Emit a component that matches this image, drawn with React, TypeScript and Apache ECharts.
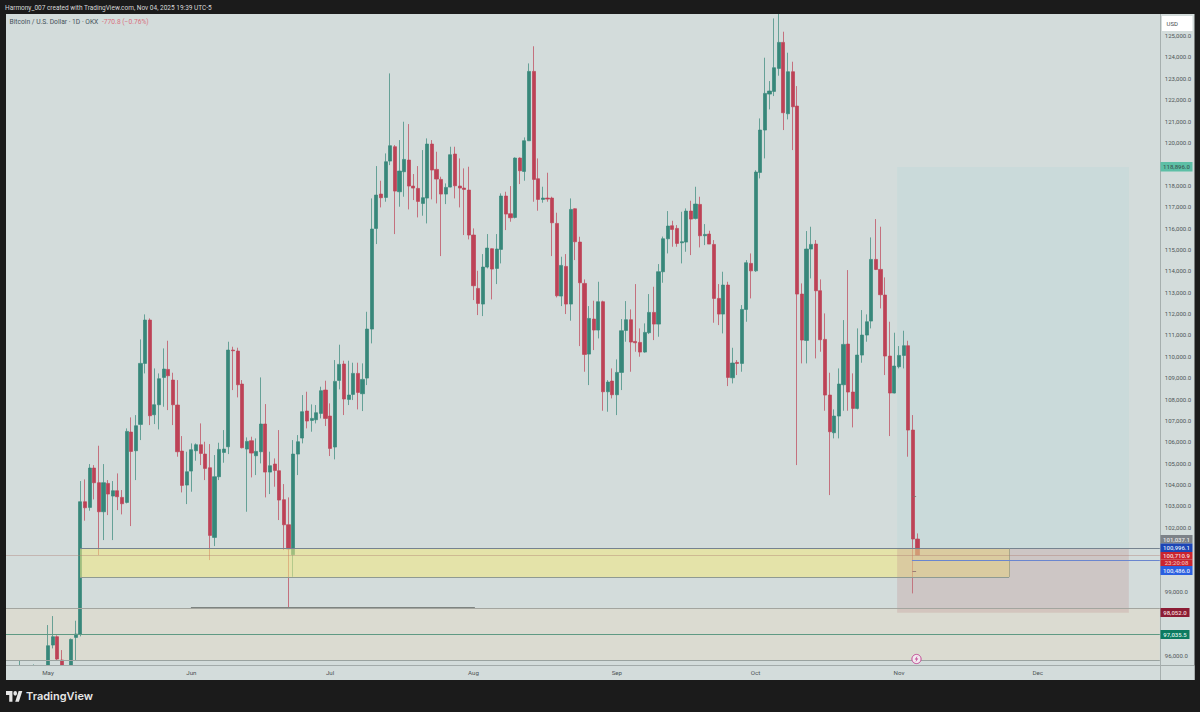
import React, { useEffect, useRef } from "react";
import * as echarts from "echarts";

// each candle: [open, close, low, high]
const aprilCandles = [
  [87500,93400,87100,93800],[93400,93700,92000,94500],[93700,93900,91700,94000],[93900,94600,92800,95792],[94600,94600,93900,95000],[94600,93800,93500,95000],[93800,94900,92800,95589],[94900,94200,93800,95200],[94200,94200,92900,95200],
];
const mayCandles = [
  [94200,96462,93900,97429],[96493,96883,96337,97850],[96883,95838,95792,96950],[95792,94300,93900,96260],[94300,94800,93500,95100],[94800,96758,93400,96800],[96852,97008,95792,97631],[97008,103197,96900,104164],[103197,102916,102309,104242],[102932,104772,102776,104959],
  [104772,104086,103306,104912],[104086,102729,100703,105816],[102729,104086,101404,104959],[104055,103556,102573,104210],[103462,103711,101404,104164],[103711,103431,102807,104522],[103400,103103,102605,103743],[103166,106486,103119,106627],[106455,105551,102059,107141],[105582,106751,104210,107250],
  [106814,109667,106081,110789],[109667,111694,109199,111959],[111694,107219,106783,111772],[107266,107734,106830,109433],[107734,108950,106580,109199],[109012,109402,107640,110368],[109386,109090,107484,110727],[108887,107734,106783,109230],[107718,105536,105302,108887],[105567,103961,103633,106268],[103977,104600,103088,105536],
];
const juneCandles = [
  [104631,105629,103665,105925],[105582,105863,105115,105925],[105863,105458,104912,106861],[105426,104756,104210,106003],[104787,101623,100469,105894],[101529,104366,101123,105380],[104366,105645,104210,105956],[105504,105660,105021,106549],[105770,110291,105426,110680],[110291,110259,108420,110446],
  [110244,108669,108077,110400],[108700,105723,105692,108887],[105660,106019,102729,106206],[106050,105473,104335,106237],[105348,105551,104444,106159],[105536,106830,104990,109012],[106830,104584,103400,107765],[104584,104881,103556,105536],[104959,104662,103899,105224],[104647,103275,102340,106549],
  [103291,102121,100937,104023],[102121,100983,98255,103400],[100718,105426,99689,106081],[105426,106003,104444,106315],[106176,107407,105926,108187],[107438,106971,106628,108342],[107002,107095,106472,107750],[107033,107360,106861,107719],[107329,108389,107095,108576],[108420,107095,106737,108857],
];
const julyCandles = [
  [107204,105692,105334,107797],[105755,108826,105178,109824],[108873,109621,108452,110541],[109637,108000,107251,109792],[107984,108187,107719,109792],[108218,109200,107953,109699],[109200,108311,107516,109699],[108249,108919,107438,109668],[108981,111273,108654,112082],[111273,115950,110603,117384],
  [115981,117540,115249,118897],[117587,117416,116964,118211],[117431,119099,117229,119489],[119130,119848,118943,123231],[119801,117727,115716,119879],[117696,118663,116995,120113],[118632,119208,117462,120970],[119177,117961,116870,120861],[117961,117868,117306,118523],[117852,117244,116496,118897],
  [117150,117416,116574,119645],[117400,119926,116215,120191],[119926,118710,117338,120113],[118741,118289,117150,119567],[118273,117587,114687,118398],[117587,117899,117119,118086],[117914,119427,117899,119801],[119458,117977,117384,119801],[117961,117868,116964,119255],[117868,117805,115670,118788],[117774,115670,115467,118865],
];
const augustCandles = [
  [115670,113300,112629,115981],[113175,112474,111928,113999],[112442,114173,111881,114781],[114173,115061,114111,115716],[115030,114079,112660,115046],[114111,115015,113378,115716],[114999,117494,114344,117618],[117494,116652,115903,117696],[116667,116480,116293,117961],[116496,119271,116449,119302],
  [119271,118678,118055,119302],[118647,120082,118211,120237],[120081,123324,120081,123698],[123324,118273,117228,124500],[118304,117338,116808,119255],[117338,117400,117182,117930],[117400,117353,117228,118585],[117400,116246,114687,117462],[116215,112832,112754,116714],[112816,114251,112349,114656],
  [114204,112442,111975,114781],[112442,116870,111663,117384],[116900,115357,114500,116917],[115341,113439,110477,115591],[113408,110088,109277,113595],[110103,111771,108653,112348],[111740,111226,110290,112598],[111226,112551,110836,113486],[112551,108341,107453,112600],[108341,108794,107406,108887],[108840,108202,108030,109433],
];
const septemberCandles = [
  [108202,109246,107250,109854],[109246,111195,108420,111740],[111210,111709,110680,112582],[111709,110665,109277,112192],[110696,110633,110212,113377],[110649,110197,109979,111304],[110197,111117,110166,111538],[111101,112052,111039,112909],[112052,111506,110758,113252],[111506,113954,110914,114313],
  [113954,115497,113439,115600],[115497,116090,114811,116791],[116105,115934,115123,116339],[115981,115279,115123,116137],[115310,115357,114344,116760],[115341,116791,114889,116916],[116791,116417,114733,117275],[116448,117119,116400,117929],[117103,115638,115092,117462],[115638,115700,115201,116183],
  [115716,115248,115248,115872],[115232,112707,111569,115435],[112707,111974,111460,113377],[111974,113330,111070,113954],[113330,109012,108606,113486],[108996,109682,108731,110398],[109713,109667,109121,109823],[109667,112192,109277,112395],[112192,114375,111615,114500],[114344,113995,112707,114811],
];
const octoberCandles = [
  [113995,118615,113950,118700],[118601,120581,118320,121126],[120581,122295,119255,123964],[122264,122405,121547,122872],[122389,123496,122171,125803],[123465,124681,123122,126115],[124681,121391,120581,125180],[121344,123309,121079,124198],[123309,121672,119645,123777],[121703,112910,104912,122638],
  [112910,110759,109667,113409],[110743,115015,109667,115857],[115015,115233,113643,116059],[115249,113066,109901,115436],[113066,110774,110213,113596],[110790,108186,107453,112006],[108186,106471,103509,109231],[106424,107204,106160,107516],[107204,108701,106160,109433],[108670,110556,107453,111694],
  [110571,108327,107453,114032],[108327,107563,106674,109200],[107563,110057,107516,111304],[110057,110992,109698,112162],[110992,111616,110681,111959],[111647,114531,111304,115560],[114531,114063,114032,116418],[114063,112879,112240,116060],[112863,110010,109122,113690],[110010,108280,106269,111616],[108280,109543,108264,111102],
];
const novemberCandles = [
  [109511,110041,109433,110478],[110041,110493,109433,111195],[110493,106549,105302,110727],[106549,101452,98910,107251],[101452,100703,100703,101716],
];
const candles = [...aprilCandles, ...mayCandles, ...juneCandles, ...julyCandles, ...augustCandles, ...septemberCandles, ...octoberCandles, ...novemberCandles];

const dayCount = 250;
const monthNames = ["Jan","Feb","Mar","Apr","May","Jun","Jul","Aug","Sep","Oct","Nov","Dec"];
const dates: string[] = [];
for (let k = 0; k < dayCount; k++) {
  const d = new Date(Date.UTC(2025, 3, 22 + k));
  dates.push(d.toISOString().slice(0, 10));
}
const hiddenTicks = [97000, 98000, 100000, 101000, 119000, 126000];

const priceTags = [
  { text: "118,896.0", y: 162, h: 9.5, w: 32, fill: "#5dbfa6", color: "#3c5f58" },
  { text: "101,037.1", y: 535, h: 8.5, w: 32, fill: "#7d8288", color: "#e8e8e8" },
  { text: "100,996.1", y: 543.5, h: 8.5, w: 32, fill: "#1d45b5", color: "#dfe6f7" },
  { text: "100,710.9", y: 552, h: 7.5, w: 32, fill: "#c9242f", color: "#f6dcdc" },
  { text: "23:20:08", y: 559.5, h: 6.5, w: 32, fill: "#c9242f", color: "#eeb3b3" },
  { text: "100,486.0", y: 566, h: 9, w: 32, fill: "#2a5fe0", color: "#e2e9fb" },
  { text: "98,052.0", y: 608, h: 9, w: 29, fill: "#8b1c34", color: "#f3dcdc" },
  { text: "97,035.5", y: 630, h: 9, w: 29, fill: "#0c7a60", color: "#dcf1ea" },
];

// zones as [day from May 1 start, price top, day end, price bottom, fill]
const backZones: [number, number, number, number, string][] = [
  [-9.08, 98224, 240.4, 95793, "rgba(232,220,190,0.36)"],
  [183.6, 118850, 233.7, 101030, "rgba(178,214,214,0.28)"],
];
const frontZones: [number, number, number, number, string][] = [
  [6.92, 101000, 207.8, 99674, "rgba(240,232,130,0.56)"],
  [183.6, 101030, 233.7, 98005, "rgba(190,135,135,0.26)"],
];

// lines as [day start, price start, day end, price end, color, width]
const levelLines: [number, number, number, number, string, number][] = [
  [6.92, 101000, 240.4, 101000, "#76838f", 1],
  [6.92, 99674, 207.8, 99674, "#8f9a92", 1],
  [207.8, 101000, 207.8, 99674, "#a8a78c", 1],
  [-9.08, 100710, 240.4, 100710, "rgba(170,120,110,0.55)", 0.7],
  [186.8, 100469, 240.4, 100469, "#6a86cf", 1],
  [-9.08, 98224, 240.4, 98224, "#a3a59f", 1],
  [30.9, 98240, 92.3, 98240, "#7d8380", 1],
  [-9.08, 97006, 240.4, 97006, "#5f9a84", 1],
  [-9.08, 95793, 240.4, 95793, "#9aa3a0", 1],
  [186.9, 103462, 187.7, 103462, "#8a6a6a", 0.8],
  [186.9, 99923, 187.7, 99923, "#8a6a6a", 0.8],
];

const FONT = "Roboto, 'Noto Sans', sans-serif";
const logoPath = "M14 22H7V11H0V4h14v18zM28 22h-8l7.5-18h8L28 22z M24 8a4 4 0 1 1-8 0a4 4 0 0 1 8 0z";

const zoneArea = (list: [number, number, number, number, string][], z: number) => ({
  silent: true,
  z,
  data: list.map(([x0, y0, x1, y1, fill]) => [
    { xAxis: x0, yAxis: y0, itemStyle: { color: fill } },
    { xAxis: x1, yAxis: y1 },
  ]),
});

export default function App() {
  const ref = useRef<HTMLDivElement>(null);
  useEffect(() => {
    document.body.style.margin = "0";
    document.body.style.background = "#1b1b1b";
    echarts.graphic.registerShape("tvlogo", echarts.graphic.extendPath(logoPath, {}));
    const chart = echarts.init(ref.current!, undefined, { renderer: "svg" });
    const tagGraphics: any[] = [];
    priceTags.forEach((t) => {
      tagGraphics.push({ type: "rect", z: 30, silent: true, shape: { x: 1160.5, y: t.y, width: t.w, height: t.h }, style: { fill: t.fill } });
      tagGraphics.push({ type: "text", z: 31, silent: true, x: 1176.5 - (32 - t.w) / 2, y: t.y + t.h / 2, style: { text: t.text, fill: t.color, font: `500 6px ${FONT}`, align: "center", verticalAlign: "middle" } });
    });
    chart.setOption({
      animation: false,
      backgroundColor: "#1b1b1b",
      grid: { left: 4.06, top: 14.2, width: 1156.25, height: 652.1, show: false },
      xAxis: [
        {
          type: "category",
          data: dates,
          z: 9,
          axisLine: { show: false },
          axisTick: { show: false },
          splitLine: { show: false },
          axisLabel: {
            interval: (_: number, v: string) => v.endsWith("-01"),
            formatter: (v: string) => monthNames[Number(v.slice(5, 7)) - 1],
            fontSize: 6.2,
            fontFamily: FONT,
            color: "#4e5457",
            margin: 3.5,
          },
        },
        { type: "value", min: -9.5, max: 240.5, show: false },
      ],
      yAxis: {
        type: "value",
        position: "right",
        min: 95500,
        max: 126000,
        interval: 500,
        z: 9,
        splitLine: { show: false },
        axisLine: { show: false },
        axisTick: { show: false },
        axisLabel: {
          margin: 4.5,
          fontSize: 6,
          fontFamily: FONT,
          color: "#4e5457",
          formatter: (v: number) =>
            v % 1000 !== 0 || hiddenTicks.includes(v) ? "" : v.toLocaleString("en-US", { minimumFractionDigits: 1 }),
        },
      },
      series: [
        {
          type: "line",
          xAxisIndex: 1,
          data: [],
          showSymbol: false,
          silent: true,
          z: 1,
          markArea: zoneArea(backZones, 1),
        },
        {
          type: "candlestick",
          data: candles,
          barWidth: 3.7,
          clip: true,
          z: 2,
          itemStyle: {
            color: "#37877a",
            color0: "#bd4256",
            borderColor: "#37877a",
            borderColor0: "#bd4256",
            borderWidth: 0.7,
          },
        },
        {
          type: "line",
          xAxisIndex: 1,
          data: [],
          showSymbol: false,
          silent: true,
          markArea: zoneArea(frontZones, 3),
          markLine: {
            silent: true,
            symbol: "none",
            z: 4,
            label: { show: false },
            emphasis: { disabled: true },
            data: levelLines.map(([x0, y0, x1, y1, color, width]) => [
              { coord: [x0, y0], lineStyle: { color, width, type: "solid" } },
              { coord: [x1, y1] },
            ]),
          },
        },
      ],
      graphic: [
        { type: "rect", z: -10, silent: true, shape: { x: 6, y: 14, width: 1188.5, height: 666 }, style: { fill: "#d3dcdb" } },
        // frame strips over anything outside the plot window
        { type: "rect", z: 6, silent: true, shape: { x: 0, y: 0, width: 1200, height: 14 }, style: { fill: "#1b1b1b" } },
        { type: "rect", z: 6, silent: true, shape: { x: 6, y: 665.5, width: 1188.5, height: 14.5 }, style: { fill: "#d3dcdb" } },
        { type: "rect", z: 6, silent: true, shape: { x: 0, y: 680, width: 1200, height: 32 }, style: { fill: "#1b1b1b" } },
        { type: "rect", z: 6, silent: true, shape: { x: 0, y: 0, width: 6, height: 712 }, style: { fill: "#1b1b1b" } },
        { type: "line", z: 20, silent: true, shape: { x1: 1160.5, y1: 14, x2: 1160.5, y2: 680 }, style: { stroke: "#a6afae", lineWidth: 1 } },
        { type: "line", z: 20, silent: true, shape: { x1: 6, y1: 665.5, x2: 1194, y2: 665.5 }, style: { stroke: "#a3abaa", lineWidth: 1 } },
        { type: "rect", z: 20, silent: true, shape: { x: 1162, y: 16, width: 30.5, height: 15 }, style: { fill: "#ffffff" } },
        { type: "text", z: 21, silent: true, x: 1166.5, y: 23.5, style: { text: "USD", fill: "#444a4e", font: `6px ${FONT}`, verticalAlign: "middle" } },
        { type: "text", z: 10, silent: true, x: 5, y: 7.5, style: { text: "Harmony_007 created with TradingView.com, Nov 04, 2025 19:39 UTC-5", fill: "#d8d8d8", font: `6.5px ${FONT}`, verticalAlign: "middle" } },
        { type: "text", z: 5, silent: true, x: 9.5, y: 22, style: { text: "Bitcoin / U.S. Dollar · 1D · OKX", fill: "#46525a", font: `6.7px ${FONT}`, verticalAlign: "middle" } },
        { type: "text", z: 5, silent: true, x: 102, y: 22, style: { text: "-770.8 (−0.76%)", fill: "#d9717f", font: `6.7px ${FONT}`, verticalAlign: "middle" } },
        { type: "tvlogo", z: 10, silent: true, x: 6, y: 688.5, scaleX: 0.46, scaleY: 0.6, style: { fill: "#e6e6e6" } },
        { type: "text", z: 10, silent: true, x: 26, y: 695.5, style: { text: "TradingView", fill: "#e6e6e6", font: `600 11px Inter, ${FONT}`, verticalAlign: "middle" } },
        { type: "circle", z: 20, silent: true, shape: { cx: 916.5, cy: 659, r: 4.6 }, style: { fill: "#f2e8ef", stroke: "#c44b96", lineWidth: 1 } },
        { type: "polygon", z: 21, silent: true, shape: { points: [[917.5, 655.8], [914.7, 659.4], [916.4, 659.4], [915.5, 662.2], [918.3, 658.6], [916.6, 658.6]] }, style: { fill: "#c44b96" } },
        ...tagGraphics,
      ],
    });
    return () => chart.dispose();
  }, []);
  return <div ref={ref} style={{ position: "absolute", left: 0, top: 0, width: 1200, height: 712 }} />;
}
